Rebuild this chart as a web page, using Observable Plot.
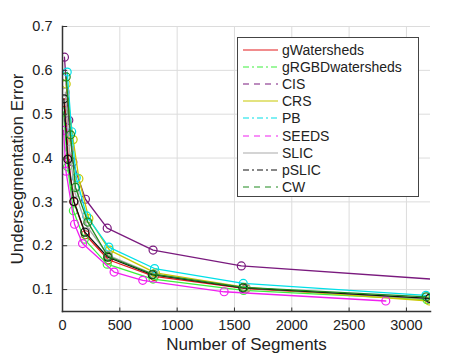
<!DOCTYPE html>
<html>
<head>
<meta charset="utf-8">
<script src="https://cdn.jsdelivr.net/npm/d3@7"></script>
<script src="https://cdn.jsdelivr.net/npm/@observablehq/plot@0.6"></script>
<style>
  body { margin: 0; background: #fff; font-family: "Liberation Sans", Arial, sans-serif; }
  #wrap { position: relative; width: 474px; height: 355px; }
  #legend { position: absolute; left: 237px; top: 37px; width: 180px; height: 158px; background: #fff; border: 1px solid #444; }
  .row { position: absolute; left: 0; height: 17px; display: flex; align-items: center; font-size: 14px; color: #222; }
  .row svg { margin-left: 5px; margin-right: 4px; }
</style>
</head>
<body>
<div id="wrap"></div>
<script>
const methods = ["gWatersheds","gRGBDwatersheds","CIS","CRS","PB","SEEDS","SLIC","pSLIC","CW"];
const colors = ["#e41a1c","#3cf03c","#7a1a7e","#c8c800","#00e0e8","#f020f0","#aaaaaa","#111111","#1f8a1f"];
const dashes = ["none","6,3,2,3","6,5","none","6,3,2,3","6,5","none","6,3,2,3","6,5"];

const xs = {
  gWatersheds:     [20, 50, 100, 200, 400, 800, 1600, 3200],
  gRGBDwatersheds: [10, 45, 95, 190, 390, 790, 1580, 3180],
  CIS:             [17, 55, 90, 200, 390, 790, 1560, 3300],
  CRS:             [32, 93, 143, 230, 410, 810, 1600, 3200],
  PB:              [41, 80, 120, 210, 404, 803, 1577, 3170],
  SEEDS:           [10, 30, 105, 175, 450, 700, 1410, 2820],
  SLIC:            [25, 60, 110, 210, 400, 800, 1600, 3200],
  pSLIC:           [12, 46, 99, 195, 395, 783, 1573, 3202],
  CW:              [32, 70, 113, 221, 395, 790, 1580, 3173]
};
const ys = {
  gWatersheds:     [0.526, 0.400, 0.300, 0.225, 0.168, 0.130, 0.102, 0.079],
  gRGBDwatersheds: [0.505, 0.380, 0.280, 0.215, 0.158, 0.124, 0.098, 0.077],
  CIS:             [0.630, 0.486, 0.391, 0.306, 0.240, 0.190, 0.154, 0.1224],
  CRS:             [0.569, 0.442, 0.353, 0.262, 0.190, 0.138, 0.105, 0.074],
  PB:              [0.596, 0.460, 0.355, 0.268, 0.197, 0.148, 0.114, 0.087],
  SEEDS:           [0.463, 0.370, 0.249, 0.205, 0.140, 0.121, 0.095, 0.074],
  SLIC:            [0.550, 0.420, 0.320, 0.245, 0.178, 0.135, 0.104, 0.079],
  pSLIC:           [0.535, 0.397, 0.301, 0.231, 0.174, 0.134, 0.104, 0.080],
  CW:              [0.585, 0.453, 0.333, 0.254, 0.176, 0.135, 0.105, 0.0834]
};
const xTicks = [0, 500, 1000, 1500, 2000, 2500, 3000];
const yTicks = [0.1, 0.2, 0.3, 0.4, 0.5, 0.6, 0.7];

const data = methods.flatMap(m => xs[m].map((x, i) => ({method: m, x, y: ys[m][i]})));

const marks = [
  Plot.gridX(xTicks, {stroke: "#dcdcdc", strokeOpacity: 1}),
  Plot.gridY(yTicks, {stroke: "#dcdcdc", strokeOpacity: 1}),
];
methods.forEach((m, k) => {
  const d = data.filter(r => r.method === m);
  marks.push(Plot.line(d, {x: "x", y: "y", stroke: colors[k], strokeWidth: 1.3, clip: true}));
  marks.push(Plot.dot(d, {x: "x", y: "y", r: 4, stroke: colors[k], strokeWidth: 1.2, fill: "none", clip: true}));
});
marks.push(
  Plot.ruleX(xTicks, {y1: 0.05, y2: 0.058, stroke: "#333", strokeWidth: 1}),
  Plot.ruleY(yTicks, {x1: 0, x2: 45, stroke: "#333", strokeWidth: 1}),
  Plot.axisX(xTicks, {tickSize: 0, tickPadding: 8, fontSize: 14.5, fill: "#222", label: null, tickFormat: d3.format("d")}),
  Plot.axisY(yTicks, {tickSize: 0, tickPadding: 10, fontSize: 14.5, fill: "#222", label: null, tickFormat: d3.format(".1f")}),
  Plot.frame({anchor: "bottom", stroke: "#333", strokeWidth: 1.5}),
  Plot.frame({anchor: "left", stroke: "#333", strokeWidth: 1.5}),
  Plot.text(["Number of Segments"], {frameAnchor: "bottom", dy: 38, fontSize: 17, fill: "#222"}),
  Plot.text(["Undersegmentation Error"], {frameAnchor: "left", dx: -45, rotate: -90, textAnchor: "middle", fontSize: 17, fill: "#222"})
);

const chart = Plot.plot({
  width: 474, height: 355,
  marginLeft: 62, marginRight: 44, marginTop: 26, marginBottom: 44,
  style: {fontFamily: "'Liberation Sans', Arial, sans-serif", background: "#fff", overflow: "visible"},
  x: {domain: [0, 3210]},
  y: {domain: [0.05, 0.7]},
  marks
});
const wrap = document.getElementById("wrap");
wrap.appendChild(chart);

const legend = document.createElement("div");
legend.id = "legend";
methods.forEach((m, k) => {
  const row = document.createElement("div");
  row.className = "row";
  row.style.top = (3 + k * 17.2) + "px";
  row.innerHTML = `<svg width="35" height="10"><line x1="0" y1="5" x2="35" y2="5" stroke="${colors[k]}" stroke-width="1.2" ${dashes[k] !== "none" ? `stroke-dasharray="${dashes[k]}"` : ""}/></svg><span>${m}</span>`;
  legend.appendChild(row);
});
wrap.appendChild(legend);
</script>
</body>
</html>
